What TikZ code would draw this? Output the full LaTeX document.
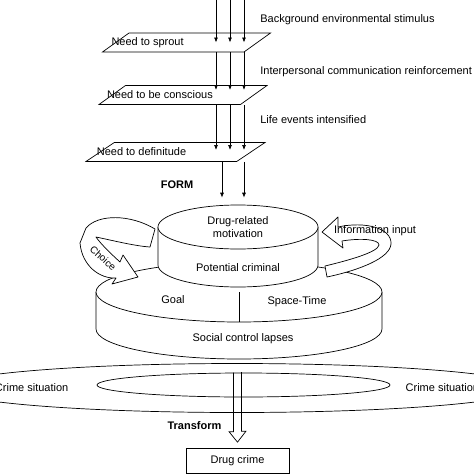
\documentclass[tikz,border=0pt]{standalone}
\usepackage{fontspec}
\setmainfont{Liberation Sans}
\usetikzlibrary{arrows.meta,shapes.geometric}

\begin{document}
\begin{tikzpicture}[
  x=1pt, y=-1pt, line width=0.7pt,
  font=\fontsize{11}{13}\selectfont,
  para/.style={draw, trapezium, trapezium left angle=77, trapezium right angle=103,
               trapezium stretches=true, minimum height=19pt, inner sep=2pt},
  disc/.style={draw, ellipse, fill=white, inner sep=0pt, align=center},
  ring/.style={draw, ellipse, inner sep=0pt},
  a/.style={-{Latex[length=5pt,width=4pt]}},
  band/.style={draw, fill=white, line join=round},
  lbl/.style={anchor=west, inner sep=4pt},
  tag/.style={font=\fontsize{11}{13}\selectfont\bfseries}
]
\clip (0,0) rectangle (474,474);

% ---- needs ----
\node[para, minimum width=168pt, label={[lbl, xshift=-8pt]west:Need to sprout}]       (sprout)     at (186.5, 42.5) {};
\node[para, minimum width=168pt, label={[lbl, xshift=-9pt]west:Need to be conscious}] (conscious)  at (183,   95)   {};
\node[para, minimum width=179pt, label={[lbl, xshift=-7pt]west:Need to definitude}]   (definitude) at (175.5,152)   {};

\node[lbl] (bgs) at (256, 20) {Background environmental stimulus};
\node[lbl] (ipc) at (256, 72) {Interpersonal communication reinforcement};
\node[lbl] (lev) at (256,120) {Life events intensified};

\coordinate (c1) at (216,0);
\coordinate (c2) at (230,0);
\coordinate (c3) at (244,0);
\foreach \c in {c1,c2,c3} {
  \draw[a] (\c) -- (\c |- sprout.center);
  \draw[a] (\c |- sprout.south) -- ([yshift=5pt]\c |- conscious.center);
  \draw[a] (\c |- conscious.south) -- ([yshift=2pt]\c |- definitude.center);
}

% ---- crime situation ----
\node[ring, minimum width=580pt, minimum height=49pt] (situout) at (237,388)   {};
\node[ring, minimum width=293pt, minimum height=24pt] (situin)  at (243.5,385) {};
\node[anchor=east] (sitl) at (72,388)  {Crime situation};
\node[anchor=west] (sitr) at (402,388) {Crime situation};

% ---- social control cylinder ----
\coordinate (lowc) at (239,292);
\draw[fill=white] (lowc) ++(-143,0) -- ++(0,37)
  arc[start angle=180, end angle=0, x radius=143, y radius=30] -- ++(0,-37);
\node[disc, minimum width=286pt, minimum height=60pt] (lowtop) at (lowc) {};
\draw (lowtop.center) -- (lowtop.south);
\node (goal)      at (173,300) {Goal};
\node (spacetime) at (297,302) {Space-Time};
\node (lapse)     at (243,339) {Social control lapses};

% ---- motivation cylinder ----
\coordinate (upc) at (238,227);
\draw[fill=white] (upc) ++(-80,0) -- ++(0,38)
  arc[start angle=180, end angle=0, x radius=80, y radius=22] -- ++(0,-38);
\node[disc, minimum width=160pt, minimum height=44pt] (motiv) at (upc) {Drug-related\\motivation};
\node (crim) at (238,268) {Potential criminal};

\coordinate (d1) at (222,0);
\coordinate (d2) at (244,0);
\foreach \c in {d1,d2}
  \draw[a] (\c |- definitude.south) -- ([yshift=7pt]\c |- motiv.north);
\node[tag] (form) at (177,185) {FORM};

% ---- side loops ----
\draw[band] (155,229) .. controls (130,214) and (98,214) .. (86,228) -- (80,243)
  .. controls (82,266) and (100,279) .. (116,278) -- (112,284) -- (138,277)
  -- (123,255) -- (120,262) .. controls (110,253) and (100,243) .. (96,237)
  .. controls (115,241) and (135,246) .. (150,247) -- cycle;
\node[rotate=-42, font=\fontsize{10}{12}\selectfont] (choice) at (103,258) {Choice};

\draw[band] (322,232) -- (338,217) -- (338,227)
  .. controls (365,221) and (392,228) .. (391,244)
  .. controls (390,258) and (360,270) .. (327,277) -- (325,266)
  .. controls (350,260) and (378,252) .. (379,245)
  .. controls (379,239) and (360,238) .. (342,241) -- (343,248) -- cycle;
\node (info) at (375,231) {Information input};

% ---- outcome ----
\node[draw, minimum width=103pt, minimum height=25pt] (crime) at (237.5,461) {Drug crime};
\draw (crime.north |- situin.north) ++(-4,0) -- ++(0,59) -- ++(-4.5,0)
  -- ([yshift=6pt]crime.north) -- ++(8.5,-11) -- ++(-4.5,0) -- ++(0,-59);
\node[tag, anchor=east] (transf) at (225,426) {Transform};
\end{tikzpicture}
\end{document}
